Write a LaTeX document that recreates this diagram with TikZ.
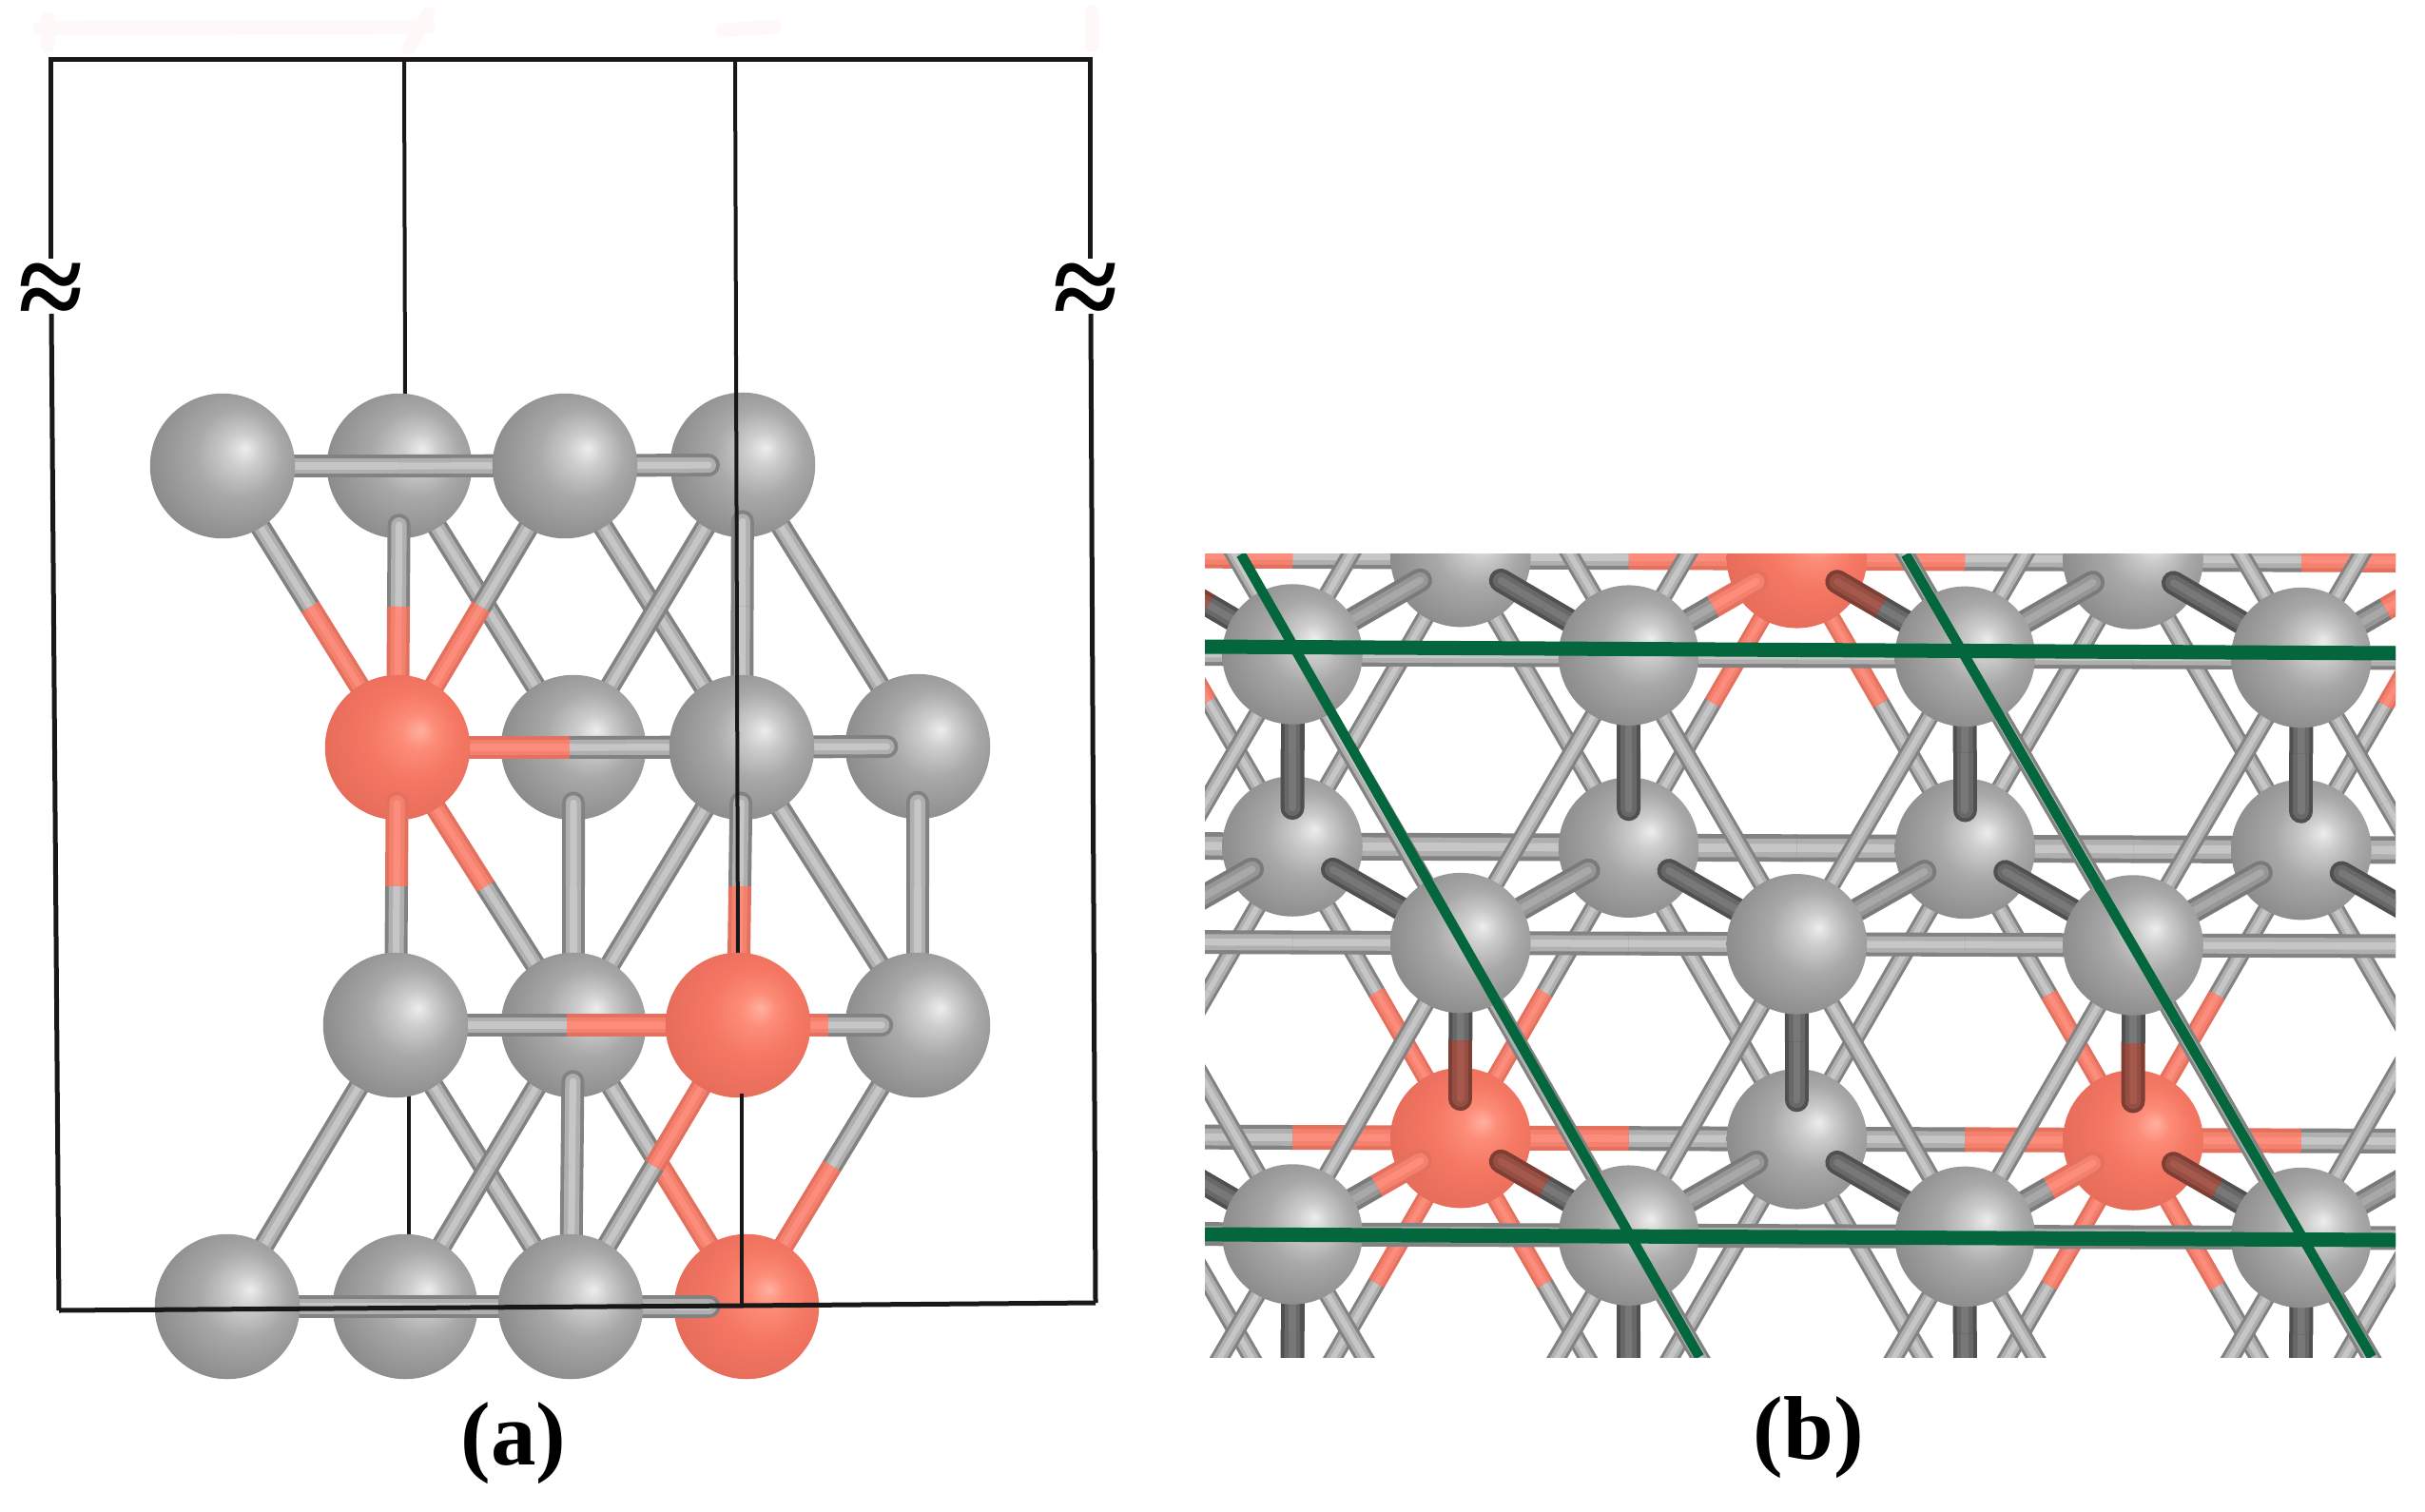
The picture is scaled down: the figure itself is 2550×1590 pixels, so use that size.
\documentclass[tikz,border=0pt]{standalone}
\usepackage{fontspec}
\setmainfont{Liberation Serif}
\usetikzlibrary{calc}
% bond colours: E edge, M middle, H highlight
\definecolor{gE}{RGB}{130,130,130}\definecolor{gM}{RGB}{175,175,175}\definecolor{gH}{RGB}{198,198,198}
\definecolor{rE}{RGB}{228,112,94}\definecolor{rM}{RGB}{244,128,110}\definecolor{rH}{RGB}{252,140,124}
\definecolor{lE}{RGB}{122,122,122}\definecolor{lM}{RGB}{150,150,150}\definecolor{lH}{RGB}{168,168,168}
\definecolor{dE}{RGB}{80,80,80}\definecolor{dM}{RGB}{104,104,104}\definecolor{dH}{RGB}{120,120,120}
\definecolor{xE}{RGB}{125,62,52}\definecolor{xM}{RGB}{150,78,66}\definecolor{xH}{RGB}{165,88,76}
\definecolor{gline}{RGB}{4,102,60}
\definecolor{fline}{RGB}{24,24,24}
\definecolor{smudge}{RGB}{255,248,248}
\pgfdeclareradialshading{ballgray}{\pgfpoint{8bp}{6bp}}{%
 rgb(0bp)=(0.93,0.93,0.93);rgb(6bp)=(0.80,0.80,0.80);rgb(15bp)=(0.66,0.66,0.66);
 rgb(30bp)=(0.54,0.54,0.54);rgb(42bp)=(0.40,0.40,0.40);rgb(50bp)=(0.30,0.30,0.30)}
\pgfdeclareradialshading{ballred}{\pgfpoint{8bp}{6bp}}{%
 rgb(0bp)=(1,0.69,0.63);rgb(6bp)=(0.99,0.55,0.47);rgb(15bp)=(0.96,0.47,0.39);
 rgb(30bp)=(0.90,0.42,0.35);rgb(42bp)=(0.76,0.35,0.29);rgb(50bp)=(0.58,0.28,0.24)}
\tikzset{
 ballg/.style={circle,inner sep=0pt,minimum size=61pt,shading=ballgray},
 ballr/.style={circle,inner sep=0pt,minimum size=61pt,shading=ballred},
 ballgb/.style={ballg,minimum size=59pt},
 ballrb/.style={ballr,minimum size=59pt},
 frameline/.style={draw=fline,line width=2pt},
 thinframe/.style={draw=fline,line width=1.6pt},
 greenthick/.style={draw=gline,line width=6pt},
 greenthin/.style={draw=gline,line width=4.2pt},
 caption/.style={inner sep=0pt,font=\fontsize{38}{40}\selectfont\bfseries},
 breakmark/.style={inner sep=0pt,yscale=1.12,xscale=1.08,transform shape,font=\fontsize{46}{46}\selectfont\bfseries}
}
\newcommand\myseg[5][]{%
 \draw[#1,line width=#3*0.4pt,color=#2E] #4 -- #5;
 \draw[#1,line width=#3*0.27pt,color=#2M] #4 -- #5;
 \draw[#1,line width=#3*0.12pt,color=#2H] #4 -- #5;}
\newcommand\mybond[7]{%
 \myseg[line cap=round]{#2}{#3}{($(#4)!0.5!(#5)$)}{($(#4)!#7!(#5)$)}
 \myseg{#1}{#3}{($(#4)!#6!(#5)$)}{($(#4)!0.5!(#5)$)}}
\begin{document}
\begin{tikzpicture}[x=0.4pt,y=-0.4pt]
\useasboundingbox (0,0) rectangle (2550,1590);
% faint smudges above the frame
\draw[smudge,line width=6pt,line cap=round] (42,30) -- (450,28) (50,20) -- (50,48) (450,15) -- (430,50) (760,32) -- (815,28) (1148,12) -- (1148,48);
% ---------- panel (a): sites
\foreach \n/\x/\y in {A1/234/490,A2/420/490,A3/594/490,A4/781/489,
 B1/418/786,B2/603/786,B3/780/786,B4/965/785,
 C1/416/1078,C2/603/1078,C3/776/1078,C4/965/1078,
 D1/239/1374,D2/426/1374,D3/600/1374,D4/785/1374}
 {\coordinate (\n) at (\x,\y);}
\foreach \n/\x/\y in {ftl/53/63,ftr/1146/63,fbl/62/1378,fbr/1152/1370,fbm/780/1373,
 fla/53/272,flb/54/330,fra/1146/272,frb/1147/330,m1t/425/63,m1b/426/420,m3t/430/1150,m3b/430/1310,
 m2t/773/63,m2b/776/1010,m4t/780/1150}
 {\coordinate (\n) at (\x,\y);}
\draw[frameline] (fla) -- (ftl) -- (ftr) -- (fra);
\draw[frameline] (flb) -- (fbl);
\draw[frameline] (frb) -- (fbr);
\node[breakmark] (brL) at (54,311) {≈};
\node[breakmark] (brR) at (1142,311) {≈};
\draw[thinframe] (m1t) -- (m1b);
\draw[thinframe] (m3t) -- (m3b);
% diagonal bonds
\mybond{g}{r}{22}{A1}{B1}{0}{1}
\mybond{g}{g}{22}{A2}{B2}{0}{1}
\mybond{g}{r}{22}{A3}{B1}{0}{1}
\mybond{g}{g}{22}{A3}{B3}{0}{1}
\mybond{g}{g}{22}{A4}{B2}{0}{1}
\mybond{g}{g}{22}{A4}{B4}{0}{1}
\mybond{r}{g}{22}{B1}{C2}{0}{1}
\mybond{g}{g}{22}{B3}{C2}{0}{1}
\mybond{g}{g}{22}{B3}{C4}{0}{1}
\mybond{g}{g}{22}{C1}{D1}{0}{1}
\mybond{g}{g}{22}{C1}{D3}{0}{1}
\mybond{g}{g}{22}{C2}{D2}{0}{1}
\mybond{g}{r}{22}{C2}{D4}{0}{1}
\mybond{g}{r}{22}{C4}{D4}{0}{1}
\mybond{r}{g}{22}{C3}{D3}{0}{1}
% back atoms, top rows
\node[ballg] (atA2) at (A2) {};
\node[ballg] (atA4) at (A4) {};
\node[ballg] (atB2) at (B2) {};
\node[ballg] (atB4) at (B4) {};
\mybond{r}{g}{24}{B1}{A2}{0}{0.79}
\mybond{g}{g}{24}{B3}{A4}{0}{0.80}
\mybond{g}{g}{24}{A1}{A3}{0}{1}
\mybond{g}{g}{24}{A2}{A4}{0}{0.9}
\mybond{r}{g}{24}{B1}{B3}{0}{1}
\mybond{g}{g}{24}{B2}{B4}{0}{0.91}
\node[ballg] (atA1) at (A1) {};
\node[ballg] (atA3) at (A3) {};
\node[ballr] (atB1) at (B1) {};
\node[ballg] (atB3) at (B3) {};
% vertical bonds second level
\mybond{g}{r}{24}{C1}{B1}{0}{0.8}
\mybond{g}{g}{24}{C2}{B2}{0}{0.8}
\mybond{r}{g}{24}{C3}{B3}{0}{0.8}
\mybond{g}{g}{24}{C4}{B4}{0}{0.8}
\draw[thinframe] (m2t) -- (m2b);
\node[ballg] (atC2) at (C2) {};
\node[ballg] (atC4) at (C4) {};
\node[ballg] (atD2) at (D2) {};
\node[ballr] (atD4) at (D4) {};
\mybond{g}{g}{24}{D3}{C2}{0}{0.8}
\mybond{g}{r}{24}{C1}{C3}{0}{1}
\mybond{r}{g}{24}{C3}{C4}{0}{0.8}
\mybond{g}{g}{24}{D1}{D3}{0}{1}
\mybond{g}{g}{24}{D2}{D4}{0}{0.89}
\node[ballg] (atC1) at (C1) {};
\node[ballr] (atC3) at (C3) {};
\node[ballg] (atD1) at (D1) {};
\node[ballg] (atD3) at (D3) {};
\draw[thinframe] (m4t) -- (fbm);
\draw[frameline] (fbl) -- (fbm) -- (fbr);
\node[caption] (capa) at (540,1518) {(a)};
% ---------- panel (b)
\begin{scope}
\clip (1267,583) rectangle (2519,1427);
\foreach \j in {-5,...,11}{
 \foreach \r/\yy in {z/385,a/585,b/688,c/890,d/991,e/1196,f/1298,g/1502,h/1600}{
  \coordinate (s-\r-\j) at ({1359+176.8*\j},{\yy+0.6*\j});
 }
}
% layer 2: horizontal bonds
\foreach \j in {-3,1,5}{
 \pgfmathtruncatemacro\m{\j+2}\pgfmathtruncatemacro\q{\j+4}
 \mybond{g}{r}{26}{s-a-\j}{s-a-\m}{0}{1}
 \mybond{r}{g}{26}{s-a-\m}{s-a-\q}{0}{1}
 \mybond{r}{g}{26}{s-e-\j}{s-e-\m}{0}{1}
 \mybond{g}{r}{26}{s-e-\m}{s-e-\q}{0}{1}
}
\foreach \j in {-2,0,2,4,6}{
 \pgfmathtruncatemacro\m{\j+2}
 \mybond{g}{g}{29}{s-c-\j}{s-c-\m}{0}{1}
}
% layer 2: inclined bonds
\foreach \j/\ca/\ce in {-3/g/r,-1/r/g,1/g/r,3/r/g,5/g/r,7/r/g}{
 \foreach \k in {-1,1}{
  \pgfmathtruncatemacro\m{\j+\k}
  \mybond{\ca}{g}{19}{s-a-\j}{s-c-\m}{0}{1}
  \mybond{\ce}{g}{19}{s-e-\j}{s-c-\m}{0}{1}
  \mybond{\ce}{g}{19}{s-e-\j}{s-g-\m}{0}{1}
 }
}
% layer 2: atoms
\foreach \j/\st in {1/ballgb,3/ballrb,5/ballgb}{
 \node[\st] (pa\j) at (s-a-\j) {};
}
\foreach \j in {0,2,4,6}{
 \node[ballgb] (pc\j) at (s-c-\j) {};
}
\foreach \j/\st in {1/ballrb,3/ballgb,5/ballrb}{
 \node[\st] (pe\j) at (s-e-\j) {};
}
% layer 1: bonds
\foreach \j in {-2,0,2,4,6}{
 \pgfmathtruncatemacro\m{\j+2}
 \mybond{g}{g}{25}{s-b-\j}{s-b-\m}{0}{1}
 \mybond{g}{g}{25}{s-f-\j}{s-f-\m}{0}{1}
}
\foreach \j in {-3,-1,1,3,5,7}{
 \pgfmathtruncatemacro\m{\j+2}
 \mybond{g}{g}{25}{s-d-\j}{s-d-\m}{0}{1}
}
\foreach \j in {-3,-1,1,3,5,7}{
 \foreach \k in {-1,1}{
  \pgfmathtruncatemacro\m{\j+\k}
  \mybond{g}{g}{19}{s-z-\j}{s-b-\m}{0}{1}
  \mybond{g}{g}{19}{s-d-\j}{s-b-\m}{0}{1}
  \mybond{g}{g}{19}{s-d-\j}{s-f-\m}{0}{1}
  \mybond{g}{g}{19}{s-h-\j}{s-f-\m}{0}{1}
 }
}
% short bonds seen end on: layer 2 atom towards layer 1 atoms
\foreach \j/\ca/\da/\ce/\de in {-1/r/x/l/d,1/l/d/r/x,3/r/x/l/d,5/l/d/r/x,7/r/x/l/d}{
 \pgfmathtruncatemacro\m{\j-1}\pgfmathtruncatemacro\q{\j+1}
 \mybond{l}{\ca}{25}{s-b-\m}{s-a-\j}{0}{0.76}
 \mybond{d}{\da}{25}{s-b-\q}{s-a-\j}{0}{0.76}
 \mybond{l}{\ce}{25}{s-f-\m}{s-e-\j}{0}{0.76}
 \mybond{d}{\de}{25}{s-f-\q}{s-e-\j}{0}{0.76}
}
\foreach \j in {-2,0,2,4,6,8}{
 \pgfmathtruncatemacro\m{\j-1}\pgfmathtruncatemacro\q{\j+1}
 \mybond{l}{l}{25}{s-d-\m}{s-c-\j}{0}{0.76}
 \mybond{d}{d}{25}{s-d-\q}{s-c-\j}{0}{0.76}
}
% vertical bonds from layer 1 down to layer 2
\foreach \j in {0,2,4,6}{
 \mybond{d}{d}{25}{s-b-\j}{s-c-\j}{0}{0.8}
 \mybond{d}{d}{25}{s-f-\j}{s-g-\j}{0}{0.8}
}
\mybond{d}{x}{25}{s-d-1}{s-e-1}{0}{0.8}
\mybond{d}{d}{25}{s-d-3}{s-e-3}{0}{0.8}
\mybond{d}{x}{25}{s-d-5}{s-e-5}{0}{0.8}
% layer 1: atoms
\foreach \j in {0,2,4,6}{
 \node[ballgb] (pb\j) at (s-b-\j) {};
 \node[ballgb] (pf\j) at (s-f-\j) {};
}
\foreach \j in {1,3,5}{
 \node[ballgb] (pd\j) at (s-d-\j) {};
}
% green cell lines
\coordinate (g1a) at (1267,680);\coordinate (g1b) at (2519,687);
\coordinate (g2a) at (1267,1298);\coordinate (g2b) at (2519,1304);
\coordinate (g3a) at (1305,583);\coordinate (g3b) at (1787,1427);
\coordinate (g4a) at (2004,583);\coordinate (g4b) at (2494,1427);
\draw[greenthick] (g1a) -- (g1b);
\draw[greenthick] (g2a) -- (g2b);
\draw[greenthin] (g3a) -- (g3b);
\draw[greenthin] (g4a) -- (g4b);
\end{scope}
\node[caption] (capb) at (1902,1512) {(b)};
\end{tikzpicture}
\end{document}
